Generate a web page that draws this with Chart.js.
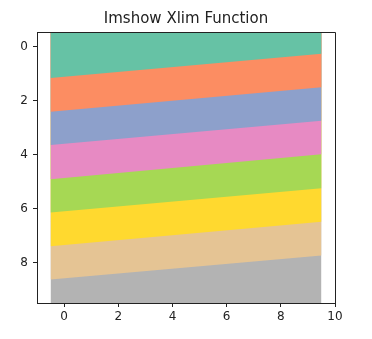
<!DOCTYPE html>
<html>
<head>
<meta charset="utf-8">
<script src="https://cdn.jsdelivr.net/npm/chart.js@4/dist/chart.umd.min.js"></script>
<style>
  body { margin: 0; background: #fff; }
</style>
</head>
<body>
<canvas id="imshowChart" width="372" height="339"></canvas>
<script>
// Set2 colours, one per band, top to bottom
const bandColors = ['#66c2a5', '#fc8d62', '#8da0cb', '#e78ac3', '#a6d854', '#ffd92f', '#e5c494', '#b3b3b3'];

// image spans x = -0.5 .. 9.5, band edges read at the left and right side
const imageX = [-0.5, 9.5];
const leftEdges = [-0.5, 1.17, 2.42, 3.65, 4.92, 6.15, 7.40, 8.63, 9.5];
const rightEdges = [-0.5, 0.27, 1.51, 2.75, 3.99, 5.25, 6.49, 7.74, 9.5];

const xTicks = [0, 2, 4, 6, 8, 10];
const yTicks = [0, 2, 4, 6, 8];

// Build one dataset per lower edge, filled up to the top of the axes.
// Filler draws the last dataset first, so the upper bands end up on top.
const datasets = [];
for (let i = 1; i < leftEdges.length; i++) {
    datasets.push({
        data: [
            { x: imageX[0], y: leftEdges[i] },
            { x: imageX[1], y: rightEdges[i] }
        ],
        borderWidth: 0,
        pointRadius: 0,
        backgroundColor: bandColors[i - 1],
        fill: { value: -0.5 }
    });
}

// top and right spines (left and bottom come from the axes borders)
const frame = {
    id: 'frame',
    afterDraw(chart) {
        const { ctx, chartArea } = chart;
        const top = Math.round(chartArea.top) - 0.5;
        const right = Math.round(chartArea.right) + 0.5;
        ctx.save();
        ctx.strokeStyle = '#222';
        ctx.lineWidth = 1;
        ctx.beginPath();
        ctx.moveTo(chartArea.left, top);
        ctx.lineTo(right, top);
        ctx.lineTo(right, chartArea.bottom + 1);
        ctx.stroke();
        ctx.restore();
    }
};

const ctx = document.getElementById('imshowChart').getContext('2d');
new Chart(ctx, {
    type: 'line',
    data: { datasets: datasets },
    plugins: [frame],
    options: {
        responsive: false,
        animation: false,
        layout: { padding: { left: 0, right: 37, top: 0, bottom: 0 } },
        plugins: {
            legend: { display: false },
            tooltip: { enabled: false },
            title: {
                display: true,
                fullSize: false, // centre over the plot area, not the canvas
                text: 'Imshow Xlim Function',
                color: '#222',
                font: { family: 'DejaVu Sans', size: 15, weight: 'normal' },
                padding: { top: 10, bottom: 5 }
            }
        },
        scales: {
            x: {
                type: 'linear',
                min: -1,
                max: 10,
                afterBuildTicks: scale => { scale.ticks = xTicks.map(v => ({ value: v })); },
                afterFit: scale => { scale.height = 36; },
                grid: { drawOnChartArea: false, tickLength: 4, color: '#222' },
                border: { color: '#222' },
                ticks: {
                    color: '#222',
                    padding: 3,
                    maxRotation: 0,
                    font: { family: 'DejaVu Sans', size: 12 }
                }
            },
            y: {
                type: 'linear',
                reverse: true,
                min: -0.5,
                max: 9.5,
                afterBuildTicks: scale => { scale.ticks = yTicks.map(v => ({ value: v })); },
                afterFit: scale => { scale.width = 37; },
                grid: { drawOnChartArea: false, tickLength: 4, color: '#222' },
                border: { color: '#222' },
                ticks: {
                    color: '#222',
                    padding: 5,
                    font: { family: 'DejaVu Sans', size: 12 }
                }
            }
        }
    }
});
</script>
</body>
</html>
